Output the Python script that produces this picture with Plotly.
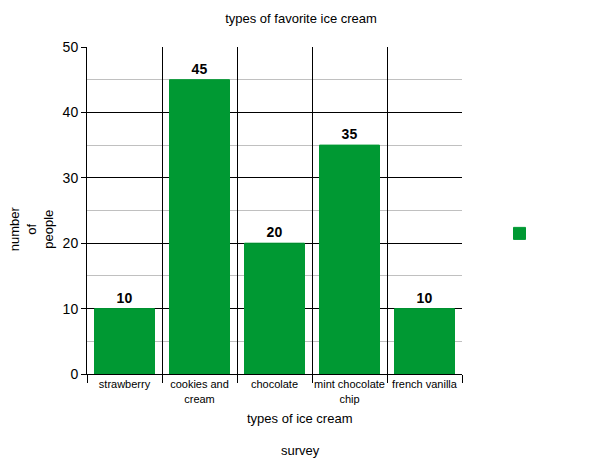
import plotly.graph_objects as go

# data
flavors = ["strawberry", "cookies and<br>cream", "chocolate", "mint chocolate<br>chip", "french vanilla"]
people = [10, 45, 20, 35, 10]

fig = go.Figure()
fig.add_trace(go.Bar(x=flavors, y=people, name="", marker_color="#009933",
                     marker_line=dict(color="#009933", width=1),
                     text=people, textposition="outside", cliponaxis=False,
                     textfont=dict(size=14, color="black", weight="bold"),
                     showlegend=True))

# page body has an 8px margin, so the figure is 592x455
fig.update_layout(
    width=592, height=455,
    margin=dict(l=79, r=138, t=39, b=89, autoexpand=False),
    plot_bgcolor="white", paper_bgcolor="white",
    font=dict(family="Liberation Sans, Arial, sans-serif", color="black"),
    title=dict(text="types of favorite ice cream", x=0.495, xref="container", xanchor="center",
               y=0.978, yanchor="middle", font=dict(size=13)),
    bargap=0.2,
    showlegend=True,
    legend=dict(x=1.1, y=0.43, yanchor="middle", xanchor="left",
                font=dict(size=12), bgcolor="rgba(0,0,0,0)"),
)

# y/x axis lines, ticks and grid
fig.update_yaxes(range=[0, 50], dtick=10, showgrid=True, gridcolor="black", gridwidth=1,
                 ticks="outside", ticklen=5, tickcolor="black", showline=True, linecolor="black",
                 tickfont=dict(size=14), zeroline=False,
                 minor=dict(dtick=5, showgrid=True, gridcolor="#c0c0c0", ticks=""))
fig.update_xaxes(showgrid=True, gridcolor="black", tickson="boundaries", ticks="outside",
                 ticklen=8, tickcolor="black", showline=True, linecolor="black",
                 tickfont=dict(size=11), tickangle=0)

# titles
fig.add_annotation(text="number<br>of<br>people", xref="paper", yref="paper",
                   x=-0.149, y=0.443, xanchor="center", yanchor="middle", textangle=-90,
                   showarrow=False, font=dict(size=13))
fig.add_annotation(text="types of ice cream", xref="paper", yref="paper",
                   x=0.568, y=-0.135, xanchor="center", yanchor="middle",
                   showarrow=False, font=dict(size=13))
fig.add_annotation(text="survey", xref="paper", yref="paper",
                   x=0.568, y=-0.235, xanchor="center", yanchor="middle",
                   showarrow=False, font=dict(size=13))

fig.write_html("out.html")
